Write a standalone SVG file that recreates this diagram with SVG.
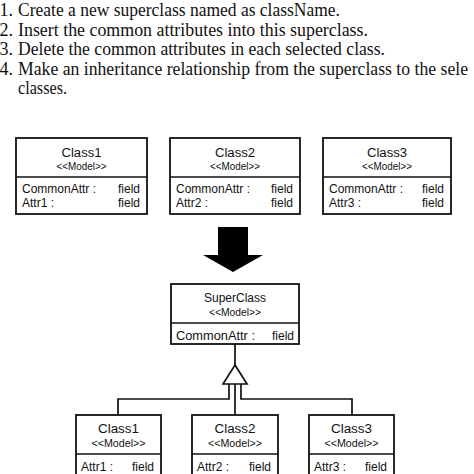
<svg xmlns="http://www.w3.org/2000/svg" width="474" height="474" viewBox="0 0 474 474">
<style>
.t{font-family:"Liberation Sans Narrow","Liberation Serif","Times New Roman",serif;font-size:18px;fill:#111}
.t{font-family:"Liberation Serif","Times New Roman",serif}
.box{fill:#fff;stroke:#111;stroke-width:1.8}
.div{stroke:#111;stroke-width:1.5}
.s{font-family:"Liberation Sans",Arial,sans-serif;font-size:12px;fill:#111}
.st{font-family:"Liberation Sans",Arial,sans-serif;font-size:11px;fill:#111}
.c{text-anchor:middle}
.r{text-anchor:end}
.ln{fill:none;stroke:#111;stroke-width:1.7}
</style>
<rect width="474" height="474" fill="#fff"/>
<g id="steps">
<text class="t r" x="13" y="16">1.</text>
<text class="t" x="18" y="16" textLength="322" lengthAdjust="spacingAndGlyphs">Create a new superclass named as className.</text>
<text class="t r" x="13" y="35.5">2.</text>
<text class="t" x="18" y="35.5" textLength="350" lengthAdjust="spacingAndGlyphs">Insert the common attributes into this superclass.</text>
<text class="t r" x="13" y="55">3.</text>
<text class="t" x="18" y="55" textLength="367" lengthAdjust="spacingAndGlyphs">Delete the common attributes in each selected class.</text>
<text class="t r" x="13" y="74.5">4.</text>
<text class="t" x="18" y="74.5" textLength="450" lengthAdjust="spacingAndGlyphs">Make an inheritance relationship from the superclass to the sele</text>
<text class="t" x="18" y="94" textLength="49" lengthAdjust="spacingAndGlyphs">classes.</text>
</g>
<g id="top-class1">
<rect class="box" x="16" y="138" width="131" height="76"/>
<line class="div" x1="16" y1="177" x2="147" y2="177"/>
<text class="s c" x="81.5" y="156.5" textLength="40" lengthAdjust="spacingAndGlyphs">Class1</text>
<text class="st c" x="81.5" y="169.5" textLength="50" lengthAdjust="spacingAndGlyphs">&lt;&lt;Model&gt;&gt;</text>
<text class="s" x="22" y="193">CommonAttr :</text>
<text class="s r" x="140" y="193">field</text>
<text class="s" x="22" y="207">Attr1 :</text>
<text class="s r" x="140" y="207">field</text>
</g>
<g id="top-class2">
<rect class="box" x="170" y="138" width="130" height="76"/>
<line class="div" x1="170" y1="177" x2="300" y2="177"/>
<text class="s c" x="235" y="156.5" textLength="40" lengthAdjust="spacingAndGlyphs">Class2</text>
<text class="st c" x="235" y="169.5" textLength="50" lengthAdjust="spacingAndGlyphs">&lt;&lt;Model&gt;&gt;</text>
<text class="s" x="176" y="193">CommonAttr :</text>
<text class="s r" x="293" y="193">field</text>
<text class="s" x="176" y="207">Attr2 :</text>
<text class="s r" x="293" y="207">field</text>
</g>
<g id="top-class3">
<rect class="box" x="323" y="138" width="128" height="76"/>
<line class="div" x1="323" y1="177" x2="451" y2="177"/>
<text class="s c" x="387" y="156.5" textLength="40" lengthAdjust="spacingAndGlyphs">Class3</text>
<text class="st c" x="387" y="169.5" textLength="50" lengthAdjust="spacingAndGlyphs">&lt;&lt;Model&gt;&gt;</text>
<text class="s" x="329" y="193">CommonAttr :</text>
<text class="s r" x="444" y="193">field</text>
<text class="s" x="329" y="207">Attr3 :</text>
<text class="s r" x="444" y="207">field</text>
</g>
<g id="transform-arrow">
<polygon points="218,227 248,227 248,255 263,255 233,272 203,255 218,255" fill="#000"/>
</g>
<g id="superclass">
<rect class="box" x="171" y="284" width="128" height="60"/>
<line class="div" x1="171" y1="323" x2="299" y2="323"/>
<text class="s c" x="235" y="302" textLength="62" lengthAdjust="spacingAndGlyphs">SuperClass</text>
<text class="st c" x="235" y="315.5" textLength="52" lengthAdjust="spacingAndGlyphs">&lt;&lt;Model&gt;&gt;</text>
<text class="s" x="176" y="340" textLength="79" lengthAdjust="spacingAndGlyphs">CommonAttr :</text>
<text class="s r" x="294" y="340">field</text>
</g>
<g id="bottom-class1">
<rect class="box" x="76" y="415" width="85" height="66"/>
<line class="div" x1="76" y1="454" x2="161" y2="454"/>
<text class="s c" x="118.5" y="432.5" textLength="41" lengthAdjust="spacingAndGlyphs">Class1</text>
<text class="st c" x="118.5" y="446.5" textLength="54" lengthAdjust="spacingAndGlyphs">&lt;&lt;Model&gt;&gt;</text>
<text class="s" x="81" y="471">Attr1 :</text>
<text class="s r" x="154" y="471">field</text>
</g>
<g id="bottom-class2">
<rect class="box" x="192" y="415" width="86" height="66"/>
<line class="div" x1="192" y1="454" x2="278" y2="454"/>
<text class="s c" x="235" y="432.5" textLength="41" lengthAdjust="spacingAndGlyphs">Class2</text>
<text class="st c" x="235" y="446.5" textLength="54" lengthAdjust="spacingAndGlyphs">&lt;&lt;Model&gt;&gt;</text>
<text class="s" x="197" y="471">Attr2 :</text>
<text class="s r" x="271" y="471">field</text>
</g>
<g id="bottom-class3">
<rect class="box" x="309" y="415" width="85" height="66"/>
<line class="div" x1="309" y1="454" x2="394" y2="454"/>
<text class="s c" x="351.5" y="432.5" textLength="41" lengthAdjust="spacingAndGlyphs">Class3</text>
<text class="st c" x="351.5" y="446.5" textLength="54" lengthAdjust="spacingAndGlyphs">&lt;&lt;Model&gt;&gt;</text>
<text class="s" x="314" y="471">Attr3 :</text>
<text class="s r" x="387" y="471">field</text>
</g>
<g id="connectors">
<line class="ln" x1="235" y1="344" x2="235" y2="365"/>
<polygon points="235,365 247,384 223,384" fill="#fff" stroke="#111" stroke-width="1.7"/>
<polyline class="ln" points="229,384 229,399 118,399 118,415"/>
<line class="ln" x1="235" y1="384" x2="235" y2="415"/>
<polyline class="ln" points="241,384 241,399 352,399 352,415"/>
</g>
</svg>
